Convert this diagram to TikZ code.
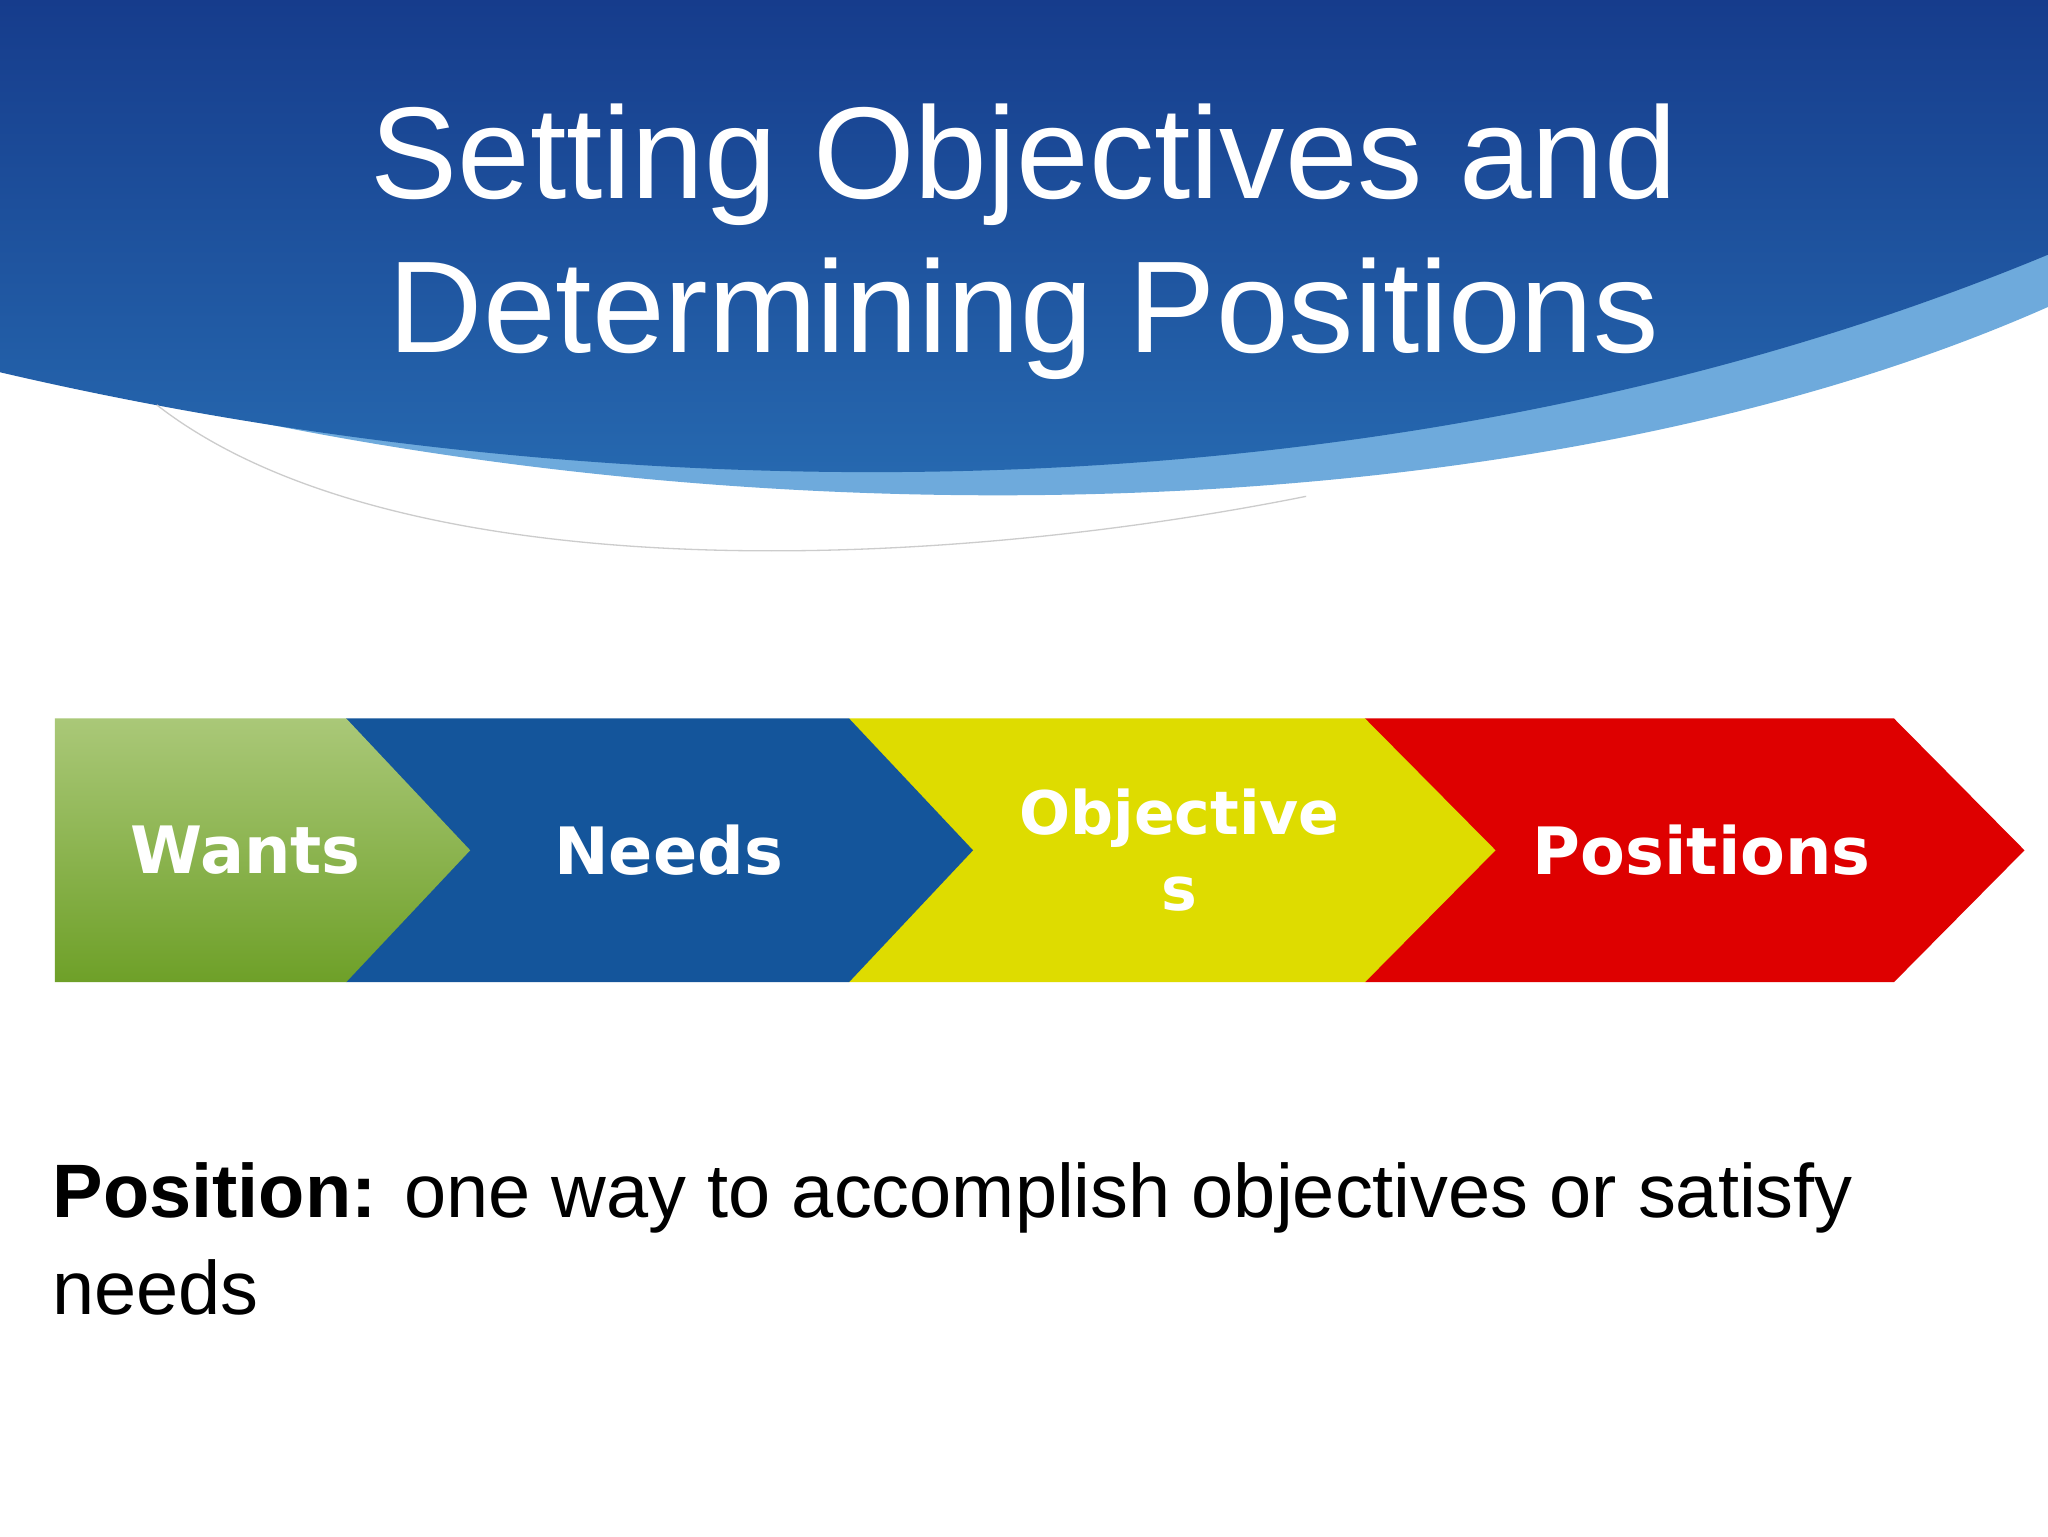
\documentclass[tikz,border=0pt]{standalone}
\usepackage{fontspec}
\setmainfont{Liberation Sans}
\newfontfamily\chev{DejaVu Sans}
\definecolor{hdark}{RGB}{22,60,140}
\definecolor{hmid}{RGB}{40,110,180}
\definecolor{hlight}{RGB}{110,170,220}
\definecolor{cblue}{RGB}{20,85,155}
\definecolor{cyel}{RGB}{222,220,0}
\definecolor{cred}{RGB}{222,0,0}
\definecolor{glight}{RGB}{170,200,120}
\definecolor{gdark}{RGB}{110,160,40}
\begin{document}
\begin{tikzpicture}[x=1pt,y=-1pt,
  lbl/.style={font=\chev\bfseries\fontsize{50}{56}\selectfont, text=white, align=center}]
\useasboundingbox (0,0) rectangle (1568,1176);
\fill[white] (0,0) rectangle (1568,1176);
% header
\fill[hlight] (0,275) .. controls (500,420) and (1150,420) .. (1568,235) -- (1568,0) -- (0,0) -- cycle;
\shade[top color=hdark, bottom color=hmid]
  (0,285) .. controls (450,390) and (1050,410) .. (1568,195) -- (1568,0) -- (0,0) -- cycle;
\draw[gray!40, line width=1] (120,310) .. controls (300,450) and (700,440) .. (1000,380);
\node[text=white, font=\fontsize{100}{118}\selectfont, align=center] (title) at (784,185) {Setting Objectives and\\Determining Positions};
% chevrons
\fill[cred] (1045,550) -- (1450,550) -- (1550,651) -- (1450,752) -- (1045,752) -- cycle;
\fill[cyel] (650,550) -- (1045,550) -- (1145,651) -- (1045,752) -- (650,752) -- cycle;
\fill[cblue] (265,550) -- (650,550) -- (745,651) -- (650,752) -- (265,752) -- cycle;
\shade[top color=glight, bottom color=gdark]
  (42,550) -- (265,550) -- (360,651) -- (265,752) -- (42,752) -- cycle;
\node[lbl] (w) at (188,651) {Wants};
\node[lbl] (n) at (512,651) {Needs};
\node[lbl, font=\chev\bfseries\fontsize{46}{58}\selectfont] (o) at (903,651) {Objective\\s};
\node[lbl] (p) at (1303,651) {Positions};
% bottom text
\node[anchor=north west, align=left, font=\fontsize{58}{74}\selectfont, inner sep=0] (def) at (40,890)
  {\textbf{Position:} one way to accomplish objectives or satisfy\\needs};
\end{tikzpicture}
\end{document}
